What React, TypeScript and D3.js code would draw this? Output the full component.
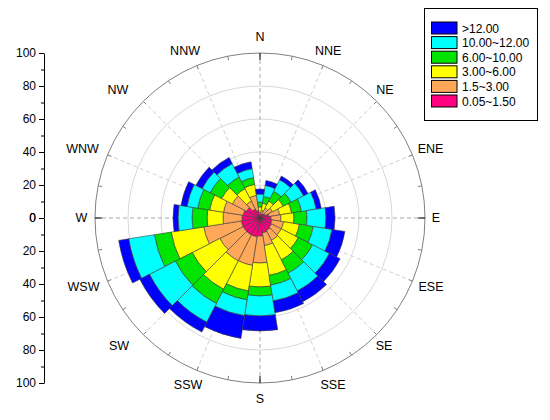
import React, { useEffect, useRef } from 'react';
import * as d3 from 'd3';

// ---- data ----
const sectorAngles = [0, 18, 36, 54, 72, 90, 108, 126, 144, 162, 180, 198, 216, 234, 252, 270, 288, 306, 324, 342];
const directionLabels = ['N', 'NNE', 'NE', 'ENE', 'E', 'ESE', 'SE', 'SSE', 'S', 'SSW', 'SW', 'WSW', 'W', 'WNW', 'NW', 'NNW'];
const binLabels = ['0.05~1.50', '1.5~3.00', '3.00~6.00', '6.00~10.00', '10.00~12.00', '>12.00'];
const binColors = ['#FF0080', '#FFA85A', '#FFFF00', '#00E400', '#00FFFF', '#0000FF'];

const speed005to150 = [1.8, 2.4, 3.0, 3.6, 5.5, 6.7, 7.3, 7.9, 8.5, 9.1, 10.9, 11.5, 11.5, 11.5, 11.5, 10.9, 10.3, 9.1, 6.1, 4.8];
const speed150to300 = [1.8, 2.4, 3.7, 4.9, 6.6, 6.0, 7.2, 6.6, 6.7, 7.9, 16.4, 17.6, 17.6, 15.8, 23.0, 11.5, 12.1, 9.7, 5.4, 9.1];
const speed300to600 = [3.1, 4.3, 4.8, 7.3, 7.3, 7.9, 9.7, 11.6, 13.3, 18.2, 14.5, 15.7, 19.4, 18.8, 20.0, 9.7, 8.5, 7.3, 8.5, 6.7];
const speed600to1000 = [3.0, 4.2, 6.7, 5.4, 6.1, 7.9, 8.5, 9.7, 9.1, 6.0, 5.5, 5.5, 9.7, 11.5, 10.3, 9.1, 7.3, 7.8, 7.9, 4.2];
const speed1000to1200 = [4.8, 6.7, 7.9, 8.5, 9.0, 11.5, 11.5, 11.5, 12.1, 9.7, 12.1, 9.7, 12.7, 17.6, 15.8, 8.5, 6.6, 5.5, 9.1, 5.5];
const speedAbove1200 = [3.1, 3.0, 2.4, 3.0, 3.1, 5.5, 7.9, 7.2, 7.3, 7.3, 9.1, 13.9, 6.7, 6.6, 6.1, 3.0, 3.7, 4.2, 4.2, 4.2];

const gridValues = [20, 40, 60, 80];
const majorTicks = [0, 20, 40, 60, 80, 100];
const minorTicks = [10, 30, 50, 70, 90];

// horizontal nudges of the compass labels (layout only)
const labelNudgeX = [0, 1.3, 1.3, 8.8, 1, 9.3, 0.3, 6, 0, -5, -17.3, -14.8, -3.5, -15.8, -18.3, -8];

const seriesList = [speed005to150, speed150to300, speed300to600, speed600to1000, speed1000to1200, speedAbove1200];

const W = 550;
const H = 420;
const cx = 260;
const cy = 218;
const R = 165;
const FONT = 'Arial, "Liberation Sans", sans-serif';

export default function App() {
  const axisRef = useRef<SVGGElement>(null);

  const r = d3.scaleLinear().domain([0, 100]).range([0, R]);
  const yUp = d3.scaleLinear().domain([0, 100]).range([cy, cy - R]);
  const yDown = d3.scaleLinear().domain([0, 100]).range([cy, cy + R]);

  const table = sectorAngles.map((a, i) => {
    const row: any = { angle: a };
    binLabels.forEach((b, j) => (row[b] = seriesList[j][i]));
    return row;
  });
  const stacked = d3.stack<any>().keys(binLabels)(table);
  const half = (Math.PI / 180) * 9;
  const arc = d3.arc<any>();

  useEffect(() => {
    const g = d3.select(axisRef.current);
    g.selectAll('*').remove();
    [yUp, yDown].forEach((sc) => {
      const major = g.append('g').attr('transform', 'translate(44,0)')
        .call(d3.axisLeft(sc).tickValues(majorTicks).tickSize(5).tickSizeOuter(0).tickPadding(3).tickFormat(d3.format('d')));
      major.select('.domain').attr('stroke', '#000');
      major.selectAll('text').attr('font-size', 12).attr('font-family', FONT).attr('fill', '#000');
      const minor = g.append('g').attr('transform', 'translate(44,0)')
        .call(d3.axisLeft(sc).tickValues(minorTicks).tickSize(3).tickSizeOuter(0).tickFormat(() => ''));
      minor.select('.domain').remove();
    });
  }, []);

  const tickAngles = d3.range(0, 360, 11.25);

  return (
    <svg width={W} height={H} style={{ position: 'absolute', left: 0, top: 0, background: '#fff' }}>
      <rect x={0} y={0} width={W} height={H} fill="#fff" />
      <g ref={axisRef} />
      <g transform={`translate(${cx},${cy})`}>
        {gridValues.map((v) => (
          <circle key={v} r={r(v)} fill="none" stroke="#d8d8d8" strokeWidth={1} />
        ))}
        {directionLabels.map((d, i) => {
          const a = (i * 22.5 * Math.PI) / 180;
          const cardinal = i % 4 === 0;
          return (
            <line key={d} x1={0} y1={0} x2={Math.sin(a) * R} y2={-Math.cos(a) * R}
              stroke={cardinal ? '#a8a8a8' : '#d0d0d0'} strokeWidth={1} strokeDasharray="4,3" />
          );
        })}
        {stacked.map((layer, j) => (
          <g key={layer.key}>
            {layer.map((d, i) => {
              const a = (sectorAngles[i] * Math.PI) / 180;
              const path = arc({ innerRadius: r(d[0]), outerRadius: r(d[1]), startAngle: a - half, endAngle: a + half });
              return <path key={i} d={path || ''} fill={binColors[j]} stroke="#3a3a3a" strokeWidth={0.6} />;
            })}
          </g>
        ))}
        <circle r={R} fill="none" stroke="#808080" strokeWidth={1} />
        {tickAngles.map((t) => {
          const a = (t * Math.PI) / 180;
          const cardinal = t % 90 === 0;
          const len = cardinal ? 7 : 4;
          return (
            <line key={t} x1={Math.sin(a) * R} y1={-Math.cos(a) * R}
              x2={Math.sin(a) * (R - len)} y2={-Math.cos(a) * (R - len)}
              stroke={cardinal ? '#000' : '#808080'} strokeWidth={1} />
          );
        })}
        {directionLabels.map((d, i) => {
          const a = (i * 22.5 * Math.PI) / 180;
          const r0 = 175;
          const x = Math.sin(a) * r0 + labelNudgeX[i];
          const y = -Math.cos(a) * (r0 + 6);
          return (
            <text key={d} x={x} y={y} textAnchor="middle" dominantBaseline="central"
              fontSize={12.5} fontFamily={FONT} fill="#000">{d}</text>
          );
        })}
      </g>
      <g>
        <rect x={424.5} y={8.5} width={113} height={112} fill="#fff" stroke="#000" strokeWidth={1} />
        {binLabels.slice().reverse().map((b, k) => {
          const j = binLabels.length - 1 - k;
          const y = 22 + k * 14.6;
          return (
            <g key={b}>
              <rect x={431.5} y={y} width={25.5} height={12} fill={binColors[j]} stroke="#000" strokeWidth={1} />
              <text x={462} y={y + 6.5} dominantBaseline="central" fontSize={12} fontFamily={FONT} fill="#000">{b}</text>
            </g>
          );
        })}
      </g>
    </svg>
  );
}
